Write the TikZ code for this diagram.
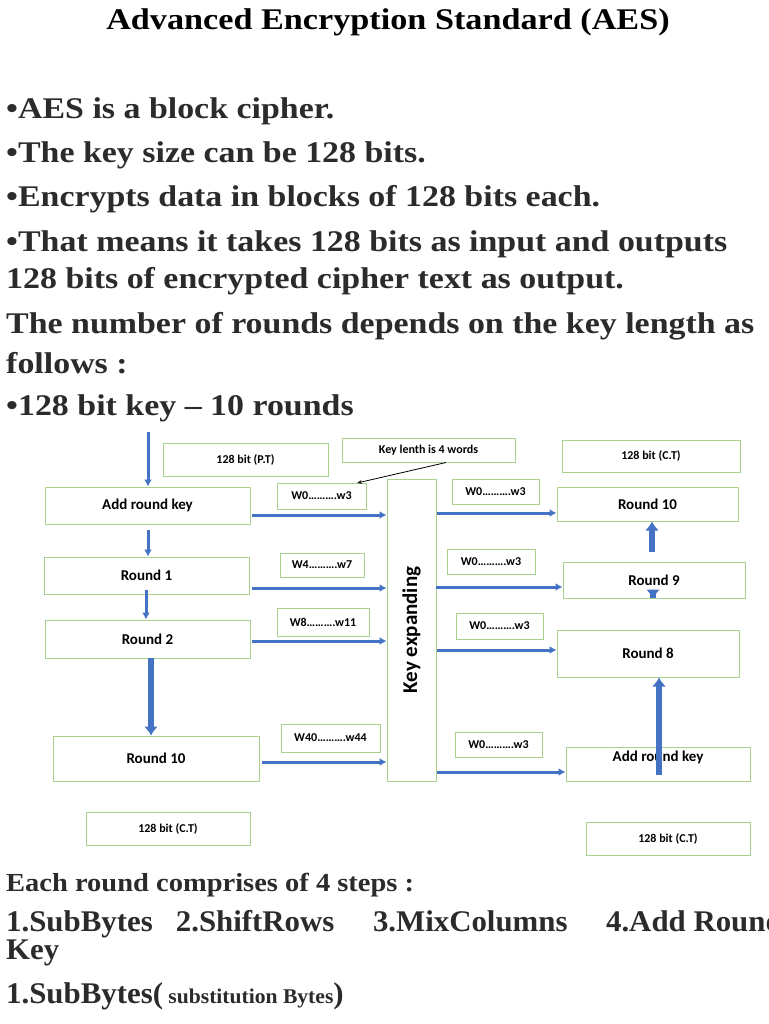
\documentclass[tikz,border=0pt]{standalone}
\usepackage{fontspec}
\usetikzlibrary{arrows.meta}
\setmainfont{Liberation Serif}
\newfontfamily\calf{Carlito}
\definecolor{blu}{HTML}{4472C4}
\definecolor{grn}{HTML}{A9D18E}
\definecolor{txt}{HTML}{2B2B2B}
\newcommand{\bbox}[6]{\node[#1,minimum width=#4-#2,minimum height=#5-#3] (#6) at ({(#2+#4)/2},{(#3+#5)/2})}
\begin{document}
\begin{tikzpicture}[x=1pt,y=-1pt,
  bx/.style={draw=grn,line width=1pt,inner sep=0pt,font=\calf\bfseries\fontsize{15}{15}\selectfont},
  sm/.style={draw=grn,line width=1pt,inner sep=0pt,font=\calf\bfseries\fontsize{12}{12}\selectfont},
  ln/.style={anchor=west,inner sep=0pt,text=txt,xscale=1.13,font=\bfseries\fontsize{30}{32}\selectfont},
  ar/.style={blu,line width=3pt,-{Latex[length=7pt,width=8pt]}},
  arT/.style={blu,line width=6pt,-{Latex[length=9pt,width=14pt]}}]
\useasboundingbox (0,0) rectangle (768,1024);
\fill[white] (0,0) rectangle (768,1024);
% text
\node[inner sep=0pt,text=black,xscale=1.14,font=\bfseries\fontsize{30}{30}\selectfont] (title) at (388,22) {Advanced Encryption Standard (AES)};
\node[ln] (l1) at (6,111) {•AES is a block cipher.};
\node[ln] (l2) at (6,155) {•The key size can be 128 bits.};
\node[ln] (l3) at (6,199) {•Encrypts data in blocks of 128 bits each.};
\node[ln] (l4) at (6,244) {•That means it takes 128 bits as input and outputs};
\node[ln] (l5) at (6,281) {128 bits of encrypted cipher text as output.};
\node[ln] (l6) at (6,326) {The number of rounds depends on the key length as};
\node[ln] (l7) at (6,363) {follows :};
\node[ln] (l8) at (6,408) {•128 bit key – 10 rounds};
\node[ln,xscale=0.97,font=\bfseries\fontsize{26}{26}\selectfont] (b1) at (6,885) {Each round comprises of 4 steps :};
\node[ln,xscale=0.91] (b2) at (6,924) {1.SubBytes\ \ \ 2.ShiftRows\ \ \ \ \ 3.MixColumns\ \ \ \ \ 4.Add Round};
\node[ln,xscale=0.91] (b3) at (6,953) {Key};
\node[ln,xscale=0.91] (b4) at (6,996) {1.SubBytes(\fontsize{21}{21}\selectfont\ substitution Bytes\fontsize{30}{30}\selectfont)};
% boxes
\bbox{sm}{163}{443}{328}{476}{pt} {128 bit (P.T)};
\bbox{sm}{342}{438}{515}{462}{kl} {Key lenth is 4 words};
\bbox{sm}{562}{440}{740}{472}{ct1} {128 bit (C.T)};
\bbox{bx}{45}{487}{250}{524}{ark} {Add round key};
\bbox{bx}{44}{557}{249}{594}{r1} {Round 1};
\bbox{bx}{45}{620}{250}{658}{r2} {Round 2};
\bbox{bx}{53}{736}{259}{781}{r10} {Round 10};
\bbox{sm}{86}{812}{250}{845}{ct2} {128 bit (C.T)};
\bbox{bx}{387}{479}{436}{781}{ke} {};
\node[rotate=90,font=\calf\bfseries\fontsize{21}{21}\selectfont] (ket) at (ke.center) {Key expanding};
\bbox{sm}{277}{483}{366}{509}{w1} {W0……….w3};
\bbox{sm}{280}{553}{364}{577}{w2} {W4……….w7};
\bbox{sm}{277}{608}{369}{636}{w3} {W8……….w11};
\bbox{sm}{281}{724}{380}{752}{w4} {W40……….w44};
\bbox{sm}{452}{479}{539}{504}{v1} {W0……….w3};
\bbox{sm}{447}{549}{535}{574}{v2} {W0……….w3};
\bbox{sm}{456}{613}{543}{639}{v3} {W0……….w3};
\bbox{sm}{455}{732}{542}{757}{v4} {W0……….w3};
\bbox{bx}{557}{487}{738}{521}{R10} {Round 10};
\bbox{bx}{563}{562}{745}{598}{R9} {Round 9};
\bbox{bx}{557}{630}{739}{677}{R8} {Round 8};
\node[draw=grn,line width=1pt,minimum width=184,minimum height=34,inner sep=0pt] (ARK) at (658,764) {};
\node[font=\calf\bfseries\fontsize{15}{15}\selectfont] (arkt) at (658,757) {Add round key};
\bbox{sm}{586}{822}{750}{855}{ct3} {128 bit (C.T)};
% arrows
\coordinate (s0) at (148,432);
\draw[ar] (s0) -- (ark.north -| s0);
\draw[ar] (s0 |- 0,530) -- (r1.north -| s0);
\draw[ar] (146,590) -- (r2.north -| 146,0);
\draw[arT] (151,658) -- (r10.north -| 151,0);
\draw[ar] (252,515) -- (ke.west |- 0,515);
\draw[ar] (252,588) -- (ke.west |- 0,588);
\draw[ar] (252,641) -- (ke.west |- 0,641);
\draw[ar] (262,762) -- (ke.west |- 0,762);
\draw[ar] (437,513) -- (R10.west |- 0,513);
\draw[ar] (436,587) -- (R9.west |- 0,587);
\draw[ar] (437,650) -- (R8.west |- 0,650);
\draw[ar] (437,772) -- (ARK.west |- 0,772);
\draw[arT] (652,552) -- (R10.south -| 652,0);
\draw[arT] (653,598) -- (R9.south -| 653,0);
\draw[arT] (659,775) -- (R8.south -| 659,0);
\draw[black,line width=0.8pt,-{Stealth[length=5pt]}] (kl.south -| 446,0) -- (357,483);
\end{tikzpicture}
\end{document}
